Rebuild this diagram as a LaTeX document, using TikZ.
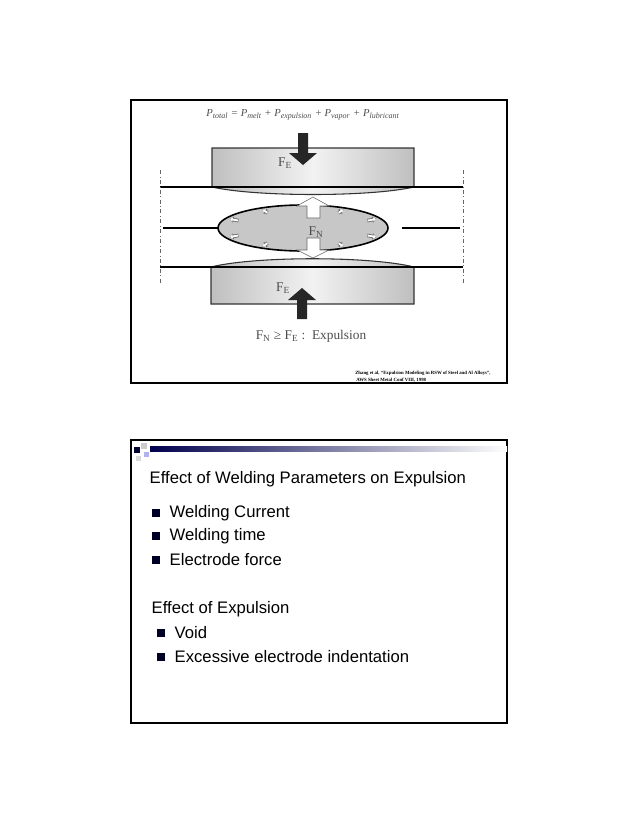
\documentclass[tikz,border=0pt]{standalone}
\usepackage{fontspec}
\setmainfont{Liberation Sans}
\newfontfamily\serifx{Liberation Serif}
\usetikzlibrary{arrows.meta}
\begin{document}
\begin{tikzpicture}[x=0.75pt,y=-0.75pt,
  frame/.style={draw=black,line width=0.8pt},
  elec/.style={draw=black!80,line width=0.8pt,left color=black!25,right color=black!25,middle color=black!5},
  sheet/.style={draw=black,line width=0.8pt},
  bul/.style={fill=black!85!blue,minimum size=6pt,inner sep=0pt},
  btext/.style={anchor=west,font=\fontsize{12.5}{14}\selectfont},
  lab/.style={font=\serifx\fontsize{10}{12}\selectfont,text=black!70}]
\useasboundingbox (0,0) rectangle (638,826);
% ---------- top slide
\draw[frame] (131,100) rectangle (507,383);
\node[lab,font=\serifx\itshape\fontsize{8}{10}\selectfont] (formula) at (303,115) {P\textsubscript{total} = P\textsubscript{melt} + P\textsubscript{expulsion} + P\textsubscript{vapor} + P\textsubscript{lubricant}};
% electrodes
\draw[elec] (212,187) -- (212,148) -- (414,148) -- (414,187) .. controls (370,197) and (256,197) .. (212,187);
\draw[elec] (211,267) -- (211,304) -- (414,304) -- (414,267) .. controls (370,256) and (255,256) .. (211,267);
% sheets
\draw[sheet] (160,187) -- (463,187);
\draw[sheet] (160,267) -- (463,267);
\draw[sheet] (163,228) -- (228,228);
\draw[sheet] (402,228) -- (460,228);
\draw[black!60,dash dot,line width=0.6pt] (160,170) -- (160,285);
\draw[black!60,dash dot,line width=0.6pt] (463,170) -- (463,285);
% nugget
\draw[line width=1.2pt,fill=black!22] (303,228) ellipse [x radius=85,y radius=23];
\node[lab] (fn) at (316,232) {F\textsubscript{N}};
% white arrows
\draw[fill=white,draw=black!60] (307,218) -- (307,206) -- (297,206) -- (313,197) -- (329,206) -- (320,206) -- (320,218) -- cycle;
\draw[fill=white,draw=black!60] (307,238) -- (307,250) -- (297,250) -- (313,258) -- (329,250) -- (320,250) -- (320,238) -- cycle;
\foreach \a in {25,60,120,155,205,240,300,335}{
  \draw[black!60,line width=2.6pt,-{Triangle[length=3pt,width=4.5pt]}] ({303+71*cos(\a)},{228-17.5*sin(\a)}) -- ({303+81*cos(\a)},{228-21.5*sin(\a)});
  \draw[white,line width=1.4pt,-{Triangle[length=2pt,width=3pt]}] ({303+71.3*cos(\a)},{228-17.6*sin(\a)}) -- ({303+80.5*cos(\a)},{228-21.3*sin(\a)});}
% dark arrows
\fill[black!85] (298,133) -- (308,133) -- (308,153) -- (317,153) -- (303,165) -- (289,153) -- (298,153) -- cycle;
\fill[black!85] (297,319) -- (307,319) -- (307,300) -- (316,300) -- (302,288) -- (288,300) -- (297,300) -- cycle;
\node[lab] (fe1) at (285,163) {F\textsubscript{E}};
\node[lab] (fe2) at (283,288) {F\textsubscript{E}};
\node[lab] (exp) at (311,336) {F\textsubscript{N} ≥ F\textsubscript{E} :\ \ Expulsion};
\node[anchor=west,font=\serifx\bfseries\fontsize{3.6}{5}\selectfont,align=left,inner sep=0pt] (cite) at (355,377) {Zhang et al, “Expulsion Modeling in RSW of Steel and Al Alloys”,\\ \ AWS Sheet Metal Conf VIII, 1998};
% ---------- bottom slide
\draw[frame] (131,440) rectangle (507,723);
\shade[left color=black!70!blue,right color=white] (150,446) rectangle (507,451);
\fill[black!80!blue] (134,447) rectangle (140,453);
\fill[black!20] (141,443) rectangle (147,449);
\fill[black!25!blue!30] (144,452) rectangle (149,457);
\fill[black!15] (136,456) rectangle (141,461);
\node[btext] (title) at (145,479) {Effect of Welding Parameters on Expulsion};
\node[bul] (b1) at (156,513) {}; \node[btext] (t1) at (165,513) {Welding Current};
\node[bul] (b2) at (156,536) {}; \node[btext] (t2) at (165,536) {Welding time};
\node[bul] (b3) at (156,560) {}; \node[btext] (t3) at (165,560) {Electrode force};
\node[btext] (title2) at (147,609) {Effect of Expulsion};
\node[bul] (b4) at (161,633) {}; \node[btext] (t4) at (170,633) {Void};
\node[bul] (b5) at (161,657) {}; \node[btext] (t5) at (170,657) {Excessive electrode indentation};
\end{tikzpicture}
\end{document}
